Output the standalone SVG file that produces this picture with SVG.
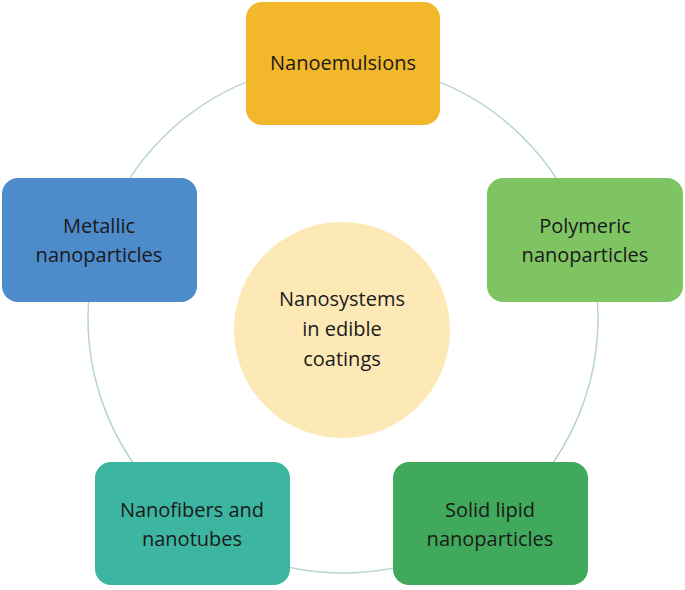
<svg xmlns="http://www.w3.org/2000/svg" width="685" height="590" viewBox="0 0 685 590">
<style>
.b{stroke:none}
.t{font-family:"Open Sans","Liberation Sans",sans-serif;font-size:20px;fill:#1a1a1a;text-anchor:middle}
</style>
<rect width="685" height="590" fill="#fff"/>
<g id="connectors"><circle cx="343" cy="318" r="255" fill="none" stroke="#b8d4cf" stroke-width="1.5"/></g>
<g id="center"><circle cx="342" cy="330" r="108" fill="#fce9b6"/>
<text class="t" x="342" y="306">Nanosystems</text><text class="t" x="342" y="336">in edible</text><text class="t" x="342" y="366">coatings</text></g>
<g id="n1"><rect class="b" x="246" y="2" width="194" height="123" rx="16" fill="#f2b72a"/><text class="t" x="343" y="70">Nanoemulsions</text></g>
<g id="n2"><rect class="b" x="487" y="178" width="196" height="124" rx="16" fill="#7fc462"/><text class="t" x="585" y="233">Polymeric</text><text class="t" x="585" y="262">nanoparticles</text></g>
<g id="n3"><rect class="b" x="393" y="462" width="195" height="123" rx="16" fill="#40a95c"/><text class="t" x="490" y="517">Solid lipid</text><text class="t" x="490" y="546">nanoparticles</text></g>
<g id="n4"><rect class="b" x="95" y="462" width="195" height="123" rx="16" fill="#3cb6a1"/><text class="t" x="192" y="517">Nanofibers and</text><text class="t" x="192" y="546">nanotubes</text></g>
<g id="n5"><rect class="b" x="2" y="178" width="195" height="124" rx="16" fill="#4d8bcb"/><text class="t" x="99" y="233">Metallic</text><text class="t" x="99" y="262">nanoparticles</text></g>
</svg>
